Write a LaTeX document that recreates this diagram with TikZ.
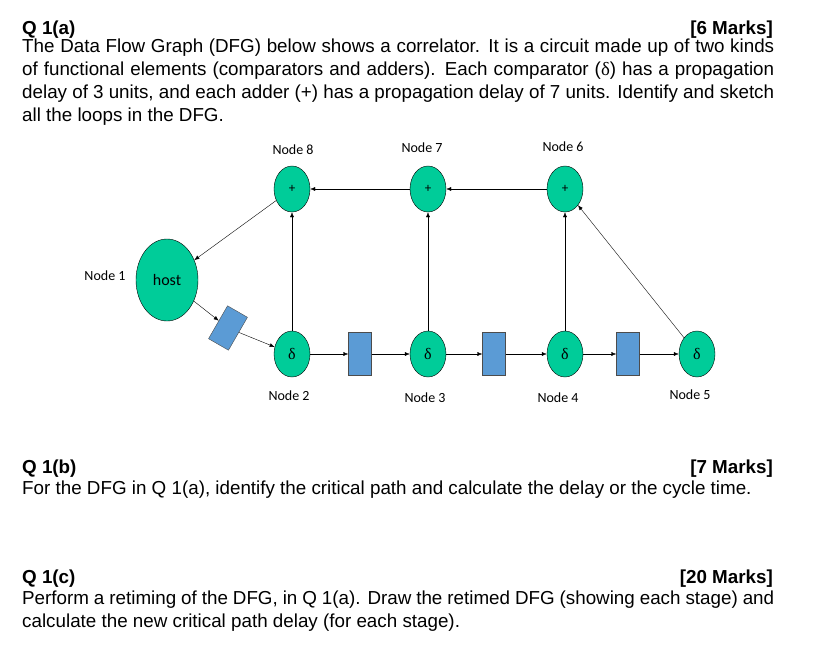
\documentclass[tikz,border=0pt]{standalone}
\usepackage{fontspec}
\setmainfont{Liberation Sans}
\newfontfamily\carl{Carlito}
\newfontfamily\serf{Liberation Serif}
\usetikzlibrary{shapes.geometric,arrows.meta}
\begin{document}
\begin{tikzpicture}[x=1pt,y=-1pt,
 nd/.style={ellipse,draw=black,minimum width=36,minimum height=46,inner sep=0pt,font=\carl\fontsize{13}{13}\selectfont},
 reg/.style={rectangle,draw=black!70,minimum width=23,minimum height=43,inner sep=0pt},
 ar/.style={-{Latex[length=5pt,width=4pt]},thin},
 lb/.style={font=\carl\fontsize{14}{14}\selectfont},
 tx/.style={anchor=north west,text width=752,align=justify,inner sep=0pt,font=\fontsize{18.8}{23}\selectfont},
 hd/.style={inner sep=0pt,font=\bfseries\fontsize{18.8}{23}\selectfont}]
\definecolor{g}{HTML}{00CC99}\definecolor{b}{HTML}{5B9BD5}
\tikzset{nd/.append style={fill=g},reg/.append style={fill=b}}
\newcommand{\dl}{{\serf\fontsize{16}{16}\selectfont δ}}
\useasboundingbox (0,0) rectangle (816,658);
\node[hd,anchor=west] (h1) at (22,30) {Q 1(a)};
\node[hd,anchor=east] (m1) at (773,30) {[6 Marks]};
\node[tx] (t1) at (22,39) {The Data Flow Graph (DFG) below shows a correlator. It is a circuit made up of two kinds of functional elements (comparators and adders). Each comparator ({\serf δ}) has a propagation delay of 3 units, and each adder (+) has a propagation delay of 7 units. Identify and sketch all the loops in the DFG.\hfill\null};
\node[nd] (a8) at (292,189) {+};
\node[nd] (a7) at (428,189) {+};
\node[nd] (a6) at (565,189) {+};
\node[nd,minimum width=62,minimum height=82,font=\carl\fontsize{16}{16}\selectfont] (host) at (167,280) {host};
\node[nd] (d2) at (292,354) {\dl};
\node[nd] (d3) at (428,354) {\dl};
\node[nd] (d4) at (565,354) {\dl};
\node[nd] (d5) at (697,354) {\dl};
\node[reg,minimum height=38,rotate=-30] (r1) at (228,328) {};
\node[reg] (r2) at (360,354) {};
\node[reg] (r3) at (494,354) {};
\node[reg] (r4) at (628,354) {};
\node[lb] (l8) at (293,150) {Node 8};
\node[lb] (l7) at (422,148) {Node 7};
\node[lb] (l6) at (563,147) {Node 6};
\node[lb] (l1) at (105,276) {Node 1};
\node[lb] (l2) at (289,396) {Node 2};
\node[lb] (l3) at (425,398) {Node 3};
\node[lb] (l4) at (558,398) {Node 4};
\node[lb] (l5) at (690,395) {Node 5};
\draw[ar] (a6) -- (a7);
\draw[ar] (a7) -- (a8);
\draw[ar] (a8) -- (host);
\draw[ar] (host) -- (r1);
\draw[ar] (r1) -- (d2);
\draw[ar] (d2) -- (r2);
\draw[ar] (r2) -- (d3);
\draw[ar] (d3) -- (r3);
\draw[ar] (r3) -- (d4);
\draw[ar] (d4) -- (r4);
\draw[ar] (r4) -- (d5);
\draw[ar] (d2) -- (a8);
\draw[ar] (d3) -- (a7);
\draw[ar] (d4) -- (a6);
\draw[ar] (d5) -- (a6);
\node[hd,anchor=west] (h2) at (22,469) {Q 1(b)};
\node[hd,anchor=east] (m2) at (773,469) {[7 Marks]};
\node[tx] (t2) at (22,481) {For the DFG in Q 1(a), identify the critical path and calculate the delay or the cycle time.\hfill\null};
\node[hd,anchor=west] (h3) at (22,579) {Q 1(c)};
\node[hd,anchor=east] (m3) at (773,579) {[20 Marks]};
\node[tx] (t3) at (22,591) {Perform a retiming of the DFG, in Q 1(a). Draw the retimed DFG (showing each stage) and calculate the new critical path delay (for each stage).\hfill\null};
\end{tikzpicture}
\end{document}
